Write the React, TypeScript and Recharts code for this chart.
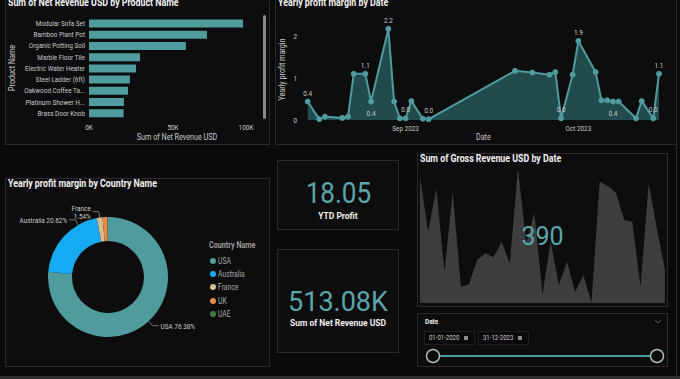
import React from "react";
import {
  BarChart,
  Bar,
  XAxis,
  YAxis,
  AreaChart,
  Area,
  LabelList,
  Label,
  PieChart,
  Pie,
  Cell,
  Legend,
} from "recharts";

const FONT = "Roboto, 'Open Sans', sans-serif";
const SX = 0.8; // Power BI's DIN is much narrower than Roboto
const BG = "#0a0a0a";
const PANEL = "#0d0d0d";
const BORDER = "#2a2a2a";
const TEAL = "#4f9b9e";
const TEXT = "#c9c9c9";

// net revenue by product
const productNames = [
  "Modular Sofa Set",
  "Bamboo Plant Pot",
  "Organic Potting Soil",
  "Marble Floor Tile",
  "Electric Water Heater",
  "Steel Ladder (6ft)",
  "Oakwood Coffee Ta...",
  "Platinum Shower H...",
  "Brass Door Knob",
];
const productRevenue = [91700, 70200, 57700, 30400, 28000, 24400, 23200, 20800, 20600];
const revenueTicks = [0, 50000, 100000];

// yearly profit margin by date
const marginDates = [
  "2023-08-15", "2023-08-17", "2023-08-18", "2023-08-21", "2023-08-22", "2023-08-23",
  "2023-08-25", "2023-08-26", "2023-08-29", "2023-08-30", "2023-08-31", "2023-09-01",
  "2023-09-02", "2023-09-04", "2023-09-05", "2023-09-20", "2023-09-23", "2023-09-26",
  "2023-09-27", "2023-09-28", "2023-09-30", "2023-10-01", "2023-10-04", "2023-10-05",
  "2023-10-06", "2023-10-07", "2023-10-08", "2023-10-11", "2023-10-12", "2023-10-14",
  "2023-10-15",
];
const marginValues = [
  0.44, 0.02, 0.08, 0.05, 0.08, 1.1, 1.1, 0.44, 2.17, 0.44, 0.04, 0.04, 0.45, 0.03, 0.02,
  1.17, 1.13, 1.08, 1.14, 0.04, 1.08, 1.88, 1.14, 0.47, 0.47, 0.44, 0.44, 0.04, 0.45, 0.04, 1.1,
];
const marginTickDates = ["2023-09-01", "2023-10-01"];
const marginTicks = [0, 1, 2];
const labelledPoints = [0, 6, 7, 8, 11, 14, 19, 21, 25, 29, 30];
const labelsBelow = [7, 25];

// profit margin by country
const countries = ["USA", "Australia", "France", "UK", "UAE"];
const countryMargin = [76.38, 20.62, 1.54, 1.36, 0.1];
const countryColors = [TEAL, "#15aaf2", "#d6bd8c", "#e98a48", "#3d7a3c"];
const labelledCountries = ["USA", "Australia", "France"];
const stackedLabels = ["France"];
const labelTurn: Record<string, number> = { Australia: -18 };

// gross revenue by date (sparkline behind the card)
const grossValues = [
  5050, 2850, 4590, 1250, 4450, 650, 750, 1720, 1990, 1830, 2450, 1590, 5390, 2390, 3590, 360,
  2450, 720, 1650, 450, 1120, 30, 4850, 4680, 4410, 3320, 3250, 650, 4790, 2990, 1320,
];

const ytdProfit = "18.05";
const netRevenueTotal = "513.08K";
const grossCard = "390";
const slicerFrom = "01-01-2020";
const slicerTo = "31-12-2023";

const toTime = (d: string) => Date.parse(d + "T00:00:00Z");
const MONTHS = ["Jan", "Feb", "Mar", "Apr", "May", "Jun", "Jul", "Aug", "Sep", "Oct", "Nov", "Dec"];
const fmtMonth = (t: number) => {
  const d = new Date(t);
  return `${MONTHS[d.getUTCMonth()]} ${d.getUTCFullYear()}`;
};
const fmtK = (v: number) => `${v / 1000}K`;

const productData = productNames.map((name, i) => ({ name, revenue: productRevenue[i] }));
const marginData = marginDates.map((d, i) => ({ t: toTime(d), margin: marginValues[i] }));
const countryData = countries.map((name, i) => ({ name, value: countryMargin[i] }));
const grossData = grossValues.map((v, i) => ({ i, gross: v }));

// narrow svg text
function sText(
  x: number,
  y: number,
  text: string,
  o: { anchor?: string; size?: number; fill?: string; weight?: number; rotate?: number; key?: string } = {}
) {
  const { anchor = "start", size = 8, fill = TEXT, weight = 400, rotate = 0, key } = o;
  return (
    <text
      key={key}
      transform={`translate(${x} ${y})${rotate ? ` rotate(${rotate})` : ""} scale(${SX} 1)`}
      textAnchor={anchor}
      fontSize={size}
      fontWeight={weight}
      fill={fill}
      fontFamily={FONT}
    >
      {text}
    </text>
  );
}

function Narrow({ children, origin = "left", sx = SX }: { children: React.ReactNode; origin?: string; sx?: number }) {
  return (
    <span
      style={{
        display: "inline-block",
        transform: `scaleX(${sx})`,
        transformOrigin: `${origin} center`,
        whiteSpace: "nowrap",
      }}
    >
      {children}
    </span>
  );
}

function Title({ children }: { children: React.ReactNode }) {
  return (
    <div
      style={{
        position: "absolute",
        left: 2,
        top: -1,
        color: "#f2f2f2",
        fontWeight: 700,
        fontSize: 10.5,
        lineHeight: "12px",
        whiteSpace: "nowrap",
      }}
    >
      <Narrow sx={0.84}>{children}</Narrow>
    </div>
  );
}

function Panel({
  left,
  top,
  width,
  height,
  children,
}: {
  left: number;
  top: number;
  width: number;
  height: number;
  children?: React.ReactNode;
}) {
  return (
    <div
      style={{
        position: "absolute",
        left,
        top,
        width,
        height,
        boxSizing: "border-box",
        border: `1px solid ${BORDER}`,
        background: PANEL,
      }}
    >
      {children}
    </div>
  );
}

const RAD = Math.PI / 180;

const categoryTick = (p: any) => sText(p.x, p.y + 2.8, String(p.payload.value), { anchor: "end" });
const kTick = (p: any) => sText(p.x, p.y + 5.7, fmtK(p.payload.value), { anchor: "middle" });
const monthTick = (p: any) => sText(p.x, p.y + 5.7, fmtMonth(p.payload.value), { anchor: "middle" });
const numTick = (p: any) => sText(p.x, p.y + 2.8, String(p.payload.value), { anchor: "end" });

const bottomTitle = (text: string, shift = 0) => (p: any) => {
  const vb = p.viewBox;
  return sText(vb.x + vb.width / 2 + shift, vb.y + vb.height - 4.8, text, { anchor: "middle", size: 9 });
};
const leftTitle = (text: string) => (p: any) => {
  const vb = p.viewBox;
  return sText(10.2, vb.y + vb.height / 2, text, { anchor: "middle", size: 9, rotate: -90 });
};

const renderMarginLabel = (props: any) => {
  const { x, y, index, value } = props;
  if (!labelledPoints.includes(index)) return null;
  const below = labelsBelow.includes(index);
  return sText(x, below ? y + 14 : y - 6, Number(value).toFixed(1), { anchor: "middle" });
};

const renderCountryLabel = (props: any) => {
  const { cx, cy, midAngle, outerRadius, percent, name } = props;
  if (!labelledCountries.includes(name)) return null;
  const a = (midAngle + (labelTurn[name] ?? 0)) * RAD;
  const px = cx + outerRadius * Math.cos(a);
  const py = cy - outerRadius * Math.sin(a);
  const ex = cx + (outerRadius + 6) * Math.cos(a);
  const ey = cy - (outerRadius + 6) * Math.sin(a);
  const right = Math.cos(a) >= 0;
  const hx = ex + (right ? 6 : -6);
  const tx = hx + (right ? 2 : -2);
  const pct = `${(percent * 100).toFixed(2)}%`;
  const anchor = right ? "start" : "end";
  return (
    <g>
      <polyline
        points={`${px},${py} ${ex},${ey} ${hx},${ey}`}
        fill="none"
        stroke="#8c8c8c"
        strokeWidth={0.8}
      />
      {stackedLabels.includes(name)
        ? [
            sText(tx, ey - 1, name, { anchor, key: "n" }),
            sText(tx, ey + 7, pct, { anchor, key: "p" }),
          ]
        : sText(tx, ey + 3, `${name} ${pct}`, { anchor })}
    </g>
  );
};

const renderCountryLegend = (props: any) => {
  const { payload } = props;
  return (
    <div style={{ fontFamily: FONT, width: 70 }}>
      <div style={{ color: "#9a9a9a", fontWeight: 700, fontSize: 9, lineHeight: "11px", marginBottom: 3 }}>
        <Narrow>Country Name</Narrow>
      </div>
      {(payload || []).map((p: any) => (
        <div
          key={p.value}
          style={{ display: "flex", alignItems: "center", height: 13.3, color: "#a8a8a8", fontSize: 8.5 }}
        >
          <span
            style={{
              width: 6,
              height: 6,
              borderRadius: 3,
              background: p.color,
              marginLeft: 1,
              marginRight: 2,
              display: "inline-block",
              flex: "none",
            }}
          />
          <Narrow>{p.value}</Narrow>
        </div>
      ))}
    </div>
  );
};

function KpiCard({
  value,
  caption,
  size,
  sx,
  valueTop,
  captionTop,
}: {
  value: string;
  caption: string;
  size: number;
  sx: number;
  valueTop: number;
  captionTop: number;
}) {
  return (
    <>
      <div
        style={{
          position: "absolute",
          left: 0,
          right: 0,
          top: valueTop,
          textAlign: "center",
          color: "#5aa6a9",
          fontSize: size,
          lineHeight: `${size}px`,
        }}
      >
        <Narrow origin="center" sx={sx}>{value}</Narrow>
      </div>
      <div
        style={{
          position: "absolute",
          left: 0,
          right: 0,
          top: captionTop,
          textAlign: "center",
          color: "#f0f0f0",
          fontSize: 9,
          fontWeight: 700,
          lineHeight: "10px",
        }}
      >
        <Narrow origin="center" sx={0.94}>{caption}</Narrow>
      </div>
    </>
  );
}

function DateBox({ left, text }: { left: number; text: string }) {
  return (
    <div
      style={{
        position: "absolute",
        left,
        top: 17,
        width: 51,
        height: 14,
        boxSizing: "border-box",
        border: "1px solid #1e1e1e",
        background: "#090909",
        color: TEXT,
        fontSize: 7.5,
        lineHeight: "12px",
        paddingLeft: 4,
        whiteSpace: "nowrap",
      }}
    >
      <Narrow>{text}</Narrow>
      <span
        style={{
          position: "absolute",
          right: 6,
          top: 4,
          width: 4,
          height: 4,
          background: "#8a8a8a",
        }}
      />
    </div>
  );
}

export default function App() {
  return (
    <div
      style={{
        position: "absolute",
        left: 0,
        top: 0,
        width: 680,
        height: 379,
        background: BG,
        overflow: "hidden",
        fontFamily: FONT,
      }}
    >
      {/* product bars */}
      <Panel left={5} top={-3} width={265} height={148}>
        <div style={{ position: "absolute", left: -1, top: -1 }}>
          <BarChart
            width={265}
            height={148}
            data={productData}
            layout="vertical"
            margin={{ top: 20.4, right: 13, bottom: 0, left: 0 }}
          >
            <XAxis
              type="number"
              dataKey="revenue"
              domain={[0, 100000]}
              ticks={revenueTicks}
              axisLine={false}
              tickLine={false}
              tickSize={0}
              tickMargin={5.6}
              height={26.4}
              tick={kTick}
            >
              <Label content={bottomTitle("Sum of Net Revenue USD", 4)} />
            </XAxis>
            <YAxis
              type="category"
              dataKey="name"
              width={84}
              axisLine={false}
              tickLine={false}
              tickSize={0}
              tickMargin={4}
              interval={0}
              tick={categoryTick}
            >
              <Label content={leftTitle("Product Name")} />
            </YAxis>
            <Bar dataKey="revenue" fill={TEAL} barSize={8} isAnimationActive={false} />
          </BarChart>
        </div>
        <Title>Sum of Net Revenue USD by Product Name</Title>
        <div
          style={{
            position: "absolute",
            left: 257,
            top: 17,
            width: 3,
            height: 104,
            borderRadius: 2,
            background: "#8a8a8a",
          }}
        />
      </Panel>

      {/* profit margin by date */}
      <Panel left={275} top={-3} width={402} height={148}>
        <div style={{ position: "absolute", left: -1, top: -1 }}>
          <AreaChart width={401} height={148} data={marginData} margin={{ top: 22.2, right: 17, bottom: 0, left: 0 }}>
            <XAxis
              type="number"
              dataKey="t"
              domain={["dataMin", "dataMax"]}
              ticks={marginTickDates.map(toTime)}
              axisLine={false}
              tickLine={false}
              tickSize={0}
              tickMargin={5.2}
              height={25}
              tick={monthTick}
            >
              <Label content={bottomTitle("Date")} />
            </XAxis>
            <YAxis
              domain={[0, 2.4]}
              ticks={marginTicks}
              width={32.7}
              axisLine={false}
              tickLine={false}
              tickSize={0}
              tickMargin={10.7}
              tick={numTick}
            >
              <Label content={leftTitle("Yearly profit margin")} />
            </YAxis>
            <Area
              type="linear"
              dataKey="margin"
              stroke={TEAL}
              strokeWidth={2}
              fill="#224b4d"
              fillOpacity={1}
              dot={{ r: 2.5, fill: TEAL, stroke: TEAL, strokeWidth: 1 }}
              isAnimationActive={false}
            >
              <LabelList dataKey="margin" content={renderMarginLabel} />
            </Area>
          </AreaChart>
        </div>
        <Title>Yearly profit margin by Date</Title>
      </Panel>

      {/* profit margin by country */}
      <Panel left={5} top={178} width={265} height={189}>
        <div style={{ position: "absolute", left: -1, top: -1 }}>
          <PieChart width={265} height={189} margin={{ top: 0, right: 0, bottom: 0, left: 0 }}>
            <Pie
              data={countryData}
              dataKey="value"
              nameKey="name"
              cx={103}
              cy={99}
              innerRadius={36}
              outerRadius={60}
              startAngle={90}
              endAngle={-270}
              stroke="none"
              label={renderCountryLabel}
              labelLine={false}
              isAnimationActive={false}
            >
              {countryData.map((d, i) => (
                <Cell key={d.name} fill={countryColors[i]} />
              ))}
            </Pie>
            <Legend
              layout="vertical"
              align="right"
              verticalAlign="top"
              content={renderCountryLegend}
              itemSorter={(item: any) => countries.indexOf(item.value)}
              wrapperStyle={{ left: 204, top: 62, width: 70 }}
            />
          </PieChart>
        </div>
        <Title>Yearly profit margin by Country Name</Title>
      </Panel>

      {/* cards */}
      <Panel left={277} top={160} width={122} height={70}>
        <KpiCard value={ytdProfit} caption="YTD Profit" size={29} sx={0.9} valueTop={18} captionTop={50} />
      </Panel>
      <Panel left={277} top={249} width={122} height={104}>
        <KpiCard value={netRevenueTotal} caption="Sum of Net Revenue USD" size={27} sx={1} valueTop={39} captionTop={68} />
      </Panel>

      {/* gross revenue */}
      <Panel left={417} top={153} width={251} height={154}>
        <div style={{ position: "absolute", left: -1, top: -1 }}>
          <AreaChart width={251} height={154} data={grossData} margin={{ top: 10, right: 3, bottom: 4, left: 3 }}>
            <XAxis dataKey="i" hide />
            <YAxis domain={[0, 5600]} hide />
            <Area type="linear" dataKey="gross" stroke="none" fill="#3d3d3d" fillOpacity={1} isAnimationActive={false} />
          </AreaChart>
        </div>
        <Title>Sum of Gross Revenue USD by Date</Title>
        <div
          style={{
            position: "absolute",
            left: 0,
            width: 249,
            top: 70,
            textAlign: "center",
            color: "#5aa6a9",
            fontSize: 25,
            lineHeight: "25px",
          }}
        >
          {grossCard}
        </div>
      </Panel>

      {/* date slicer */}
      <Panel left={417} top={313} width={251} height={54}>
        <div style={{ position: "absolute", left: 7, top: 3, color: "#f2f2f2", fontSize: 8, fontWeight: 700, lineHeight: "10px" }}>
          <Narrow>Date</Narrow>
        </div>
        <svg style={{ position: "absolute", left: 236, top: 5 }} width={8} height={5}>
          <polyline points="1,1 4,4 7,1" fill="none" stroke="#5a5a5a" strokeWidth={1} />
        </svg>
        <DateBox left={6} text={slicerFrom} />
        <DateBox left={60} text={slicerTo} />
        <svg style={{ position: "absolute", left: 0, top: 34 }} width={249} height={16}>
          <line x1={15} x2={239} y1={8} y2={8} stroke={TEAL} strokeWidth={2} />
          <circle cx={15} cy={8} r={6.5} fill="#0c0c0c" stroke="#a9bcbc" strokeWidth={1.5} />
          <circle cx={239} cy={8} r={6.5} fill="#0c0c0c" stroke="#a9bcbc" strokeWidth={1.5} />
        </svg>
      </Panel>

      <div style={{ position: "absolute", left: 676, top: 145, width: 1, height: 234, background: BORDER }} />
      <div style={{ position: "absolute", left: 0, top: 376, width: 680, height: 3, background: "#2c2c2c" }} />
    </div>
  );
}
